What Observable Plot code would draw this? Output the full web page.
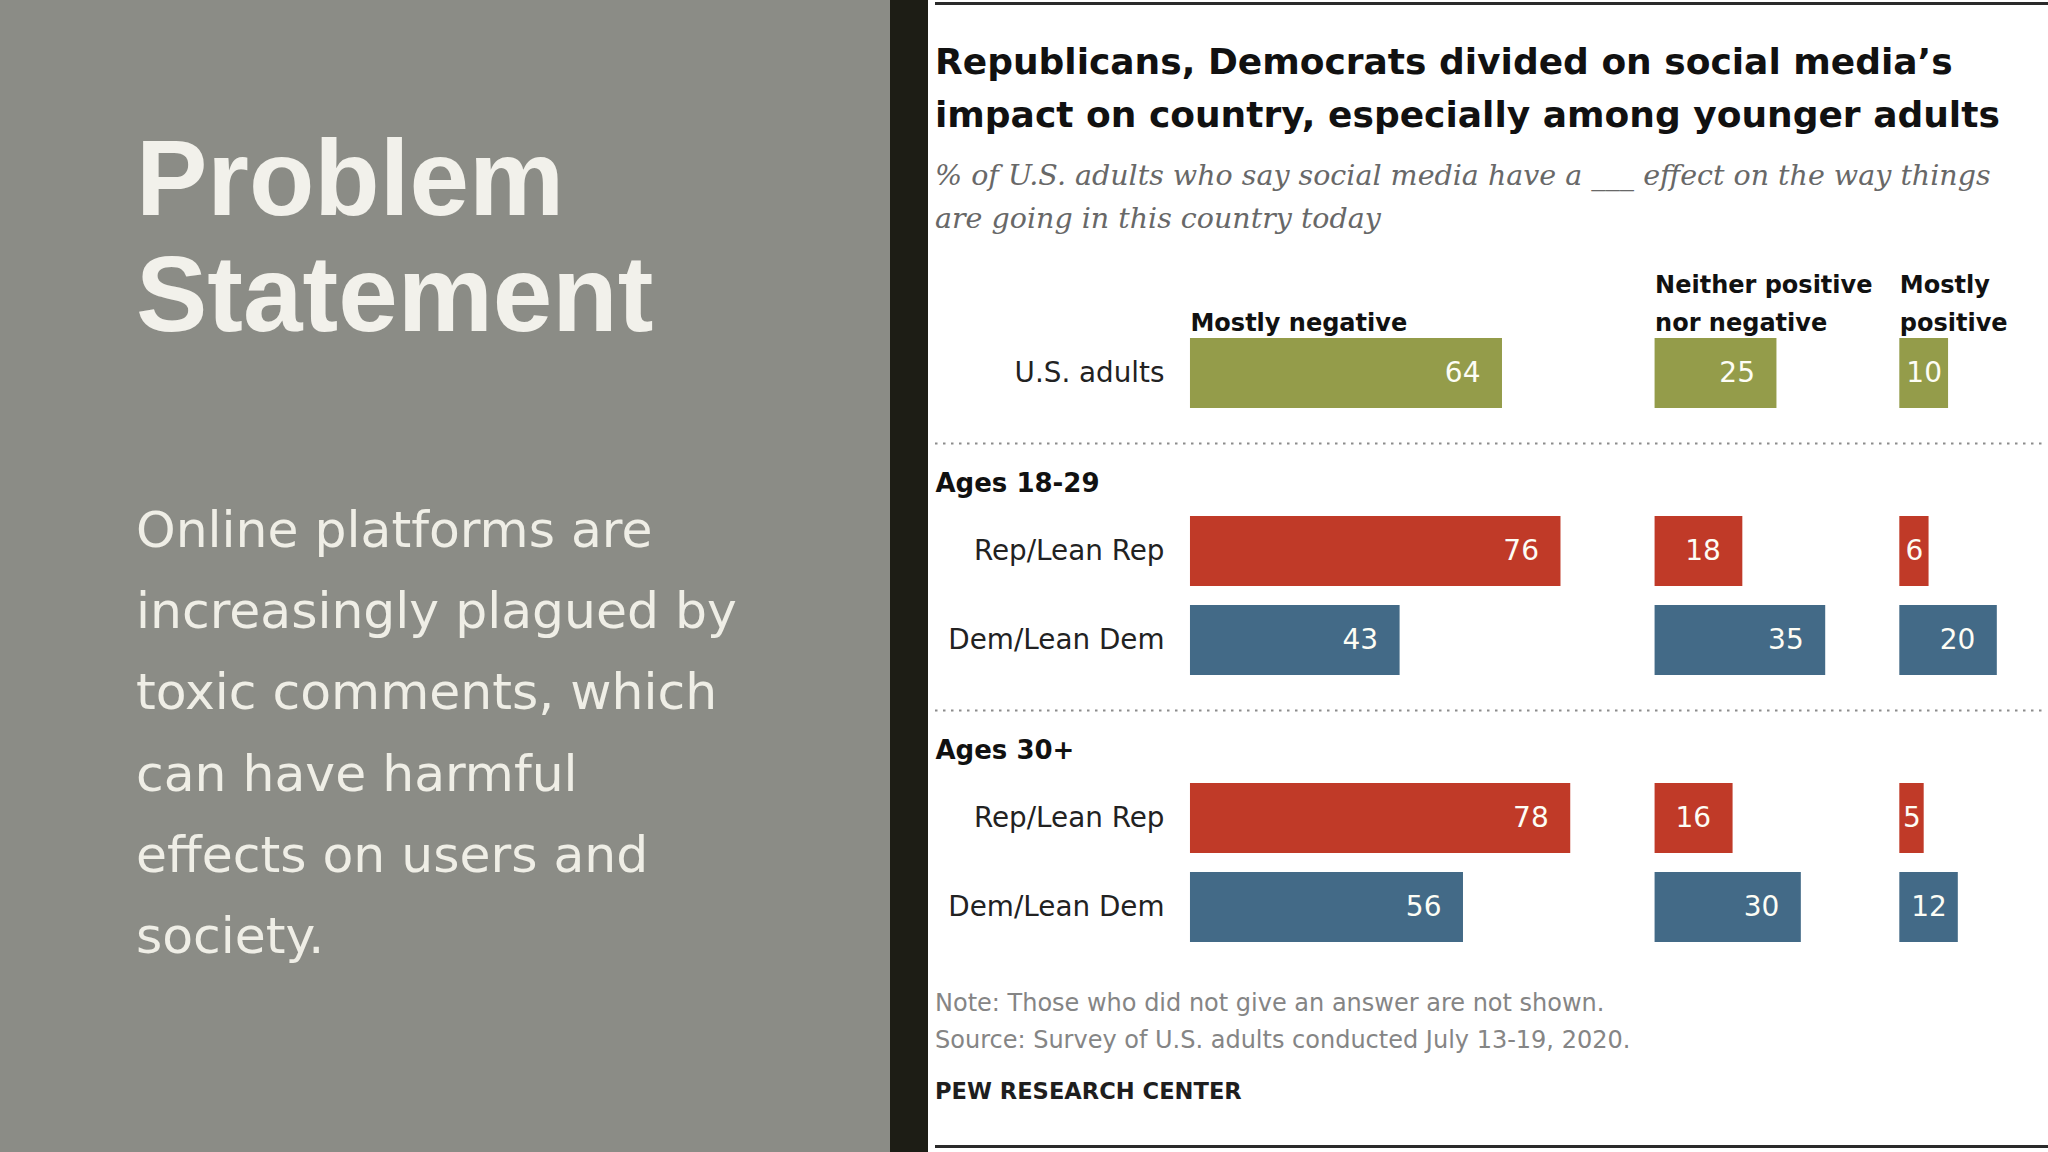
<!DOCTYPE html>
<html>
<head>
<meta charset="utf-8">
<script src="https://cdn.jsdelivr.net/npm/d3@7"></script>
<script src="https://cdn.jsdelivr.net/npm/@observablehq/plot@0.6"></script>
<style>
  html, body { margin: 0; padding: 0; }
  body { width: 2048px; height: 1152px; position: relative; overflow: hidden; background: #ffffff; }
  #left { position: absolute; left: 0; top: 0; width: 890px; height: 1152px; background: #8b8c86; }
  #strip { position: absolute; left: 890px; top: 0; width: 38px; height: 1152px; background: #1d1d15; }
  #slideTitle { position: absolute; left: 136px; top: 120px; font-family: "Liberation Sans", Arial, sans-serif;
    font-weight: bold; font-size: 107px; line-height: 116px; color: #f2f1eb; white-space: nowrap; }
  #slideBody { position: absolute; left: 136px; top: 489px; font-family: "DejaVu Sans", sans-serif;
    font-size: 50.4px; line-height: 81.2px; color: #efeee6; white-space: nowrap; }
  .hrule { position: absolute; left: 935px; width: 1113px; height: 3px; background: #2a2a2a; }
  #chartTitle { position: absolute; left: 935px; top: 35px; font-family: "DejaVu Sans", sans-serif; font-weight: bold;
    font-size: 36px; line-height: 53px; color: #111111; white-space: nowrap; }
  #chartSub { position: absolute; left: 935px; top: 154px; font-family: "DejaVu Serif", serif; font-style: italic;
    font-size: 28.5px; line-height: 43px; color: #686868; white-space: nowrap; }
  #chart { position: absolute; left: 935px; top: 255px; }
  #notes { position: absolute; left: 935px; top: 985px; font-family: "DejaVu Sans", sans-serif;
    font-size: 24px; line-height: 37px; color: #858585; white-space: nowrap; }
  #pew { position: absolute; left: 935px; top: 1073px; font-family: "DejaVu Sans", sans-serif; font-weight: bold;
    font-size: 22.6px; line-height: 36px; color: #1e1e1e; white-space: nowrap; }
</style>
</head>
<body>
<div id="left"></div>
<div id="strip"></div>
<div id="slideTitle">Problem<br>Statement</div>
<div id="slideBody">Online platforms are<br>increasingly plagued by<br>toxic comments, which<br>can have harmful<br>effects on users and<br>society.</div>

<div class="hrule" style="top:2px"></div>
<div class="hrule" style="top:1145px"></div>
<div id="chartTitle">Republicans, Democrats divided on social media’s<br>impact on country, especially among younger adults</div>
<div id="chartSub">% of U.S. adults who say social media have a ___ effect on the way things<br>are going in this country today</div>
<div id="chart"></div>
<div id="notes">Note: Those who did not give an answer are not shown.<br>Source: Survey of U.S. adults conducted July 13-19, 2020.</div>
<div id="pew">PEW RESEARCH CENTER</div>

<script>
// ---- data ----
const columns = ["Mostly negative", "Neither positive\nnor negative", "Mostly\npositive"];
const rowLabels = ["U.S. adults", "Rep/Lean Rep", "Dem/Lean Dem", "Rep/Lean Rep", "Dem/Lean Dem"];
const rowGroup = ["", "Ages 18-29", "Ages 18-29", "Ages 30+", "Ages 30+"];
const rowParty = ["all", "rep", "dem", "rep", "dem"];
const mostlyNegative = [64, 76, 43, 78, 56];
const neitherPosNeg = [25, 18, 35, 16, 30];
const mostlyPositive = [10, 6, 20, 5, 12];

// ---- layout ----
const valuesByColumn = [mostlyNegative, neitherPosNeg, mostlyPositive];
const COL_START = [0, 95.3, 145.5];
const X_MIN = -52.3, X_MAX = 176.0;
const SLOT_PX = 22.25;
const BAR_HALF = 35 / SLOT_PX;
const Y_MIN = -118 / SLOT_PX;
const H = 705;
const Y_MAX = Y_MIN + H / SLOT_PX;

let slot = 0, prev = "";
const rows = [], seps = [], heads = [];
rowLabels.forEach((label, i) => {
  const g = rowGroup[i];
  if (i > 0) {
    if (g !== prev) {
      slot += 3.15; seps.push(slot);
      slot += 1.8; heads.push({label: g, slot});
      slot += 3.05;
    } else slot += 4;
  }
  rows.push({label, party: rowParty[i], slot});
  prev = g;
});

const bars = [];
rows.forEach((r, i) => {
  valuesByColumn.forEach((vals, c) => {
    bars.push({x1: COL_START[c], x2: COL_START[c] + vals[i], v: vals[i], slot: r.slot, party: r.party});
  });
});
const headerData = columns.map((label, c) => ({label, x: COL_START[c]}));
const topY = rows[0].slot - BAR_HALF;

const chart = Plot.plot({
  width: 1113,
  height: H,
  margin: 0,
  x: {domain: [X_MIN, X_MAX], axis: null},
  y: {domain: [Y_MIN, Y_MAX], reverse: true, axis: null},
  color: {domain: ["all", "rep", "dem"], range: ["#949c4a", "#c03a28", "#436a87"]},
  style: {fontFamily: "DejaVu Sans", background: "transparent", overflow: "visible"},
  marks: [
    Plot.ruleY(seps, {x1: X_MIN, x2: X_MAX - 0.8, stroke: "#8c8c8c", strokeWidth: 2, strokeDasharray: "2.5 5.5"}),
    Plot.rect(bars, {x1: "x1", x2: "x2", y1: d => d.slot - BAR_HALF, y2: d => d.slot + BAR_HALF, fill: "party"}),
    Plot.text(bars.filter(d => d.v >= 15), {x: "x2", y: "slot", text: d => String(d.v), textAnchor: "end", dx: -22,
      fill: "#fdfdf5", fontSize: 28}),
    Plot.text(bars.filter(d => d.v < 15), {x: d => (d.x1 + d.x2) / 2, y: "slot", text: d => String(d.v), textAnchor: "middle",
      fill: "#fdfdf5", fontSize: 28}),
    Plot.text(rows, {x: 0, y: "slot", text: "label", textAnchor: "end", dx: -26, fill: "#222", fontSize: 27.8}),
    Plot.text(heads, {x: X_MIN, y: "slot", text: "label", textAnchor: "start", fill: "#111", fontSize: 26, fontWeight: "bold"}),
    Plot.text(headerData, {x: "x", y: topY, text: "label", textAnchor: "start", lineAnchor: "bottom", dy: -8,
      lineHeight: 1.55, fill: "#111", fontSize: 24, fontWeight: "bold"})
  ]
});
document.getElementById("chart").appendChild(chart);
</script>
</body>
</html>
